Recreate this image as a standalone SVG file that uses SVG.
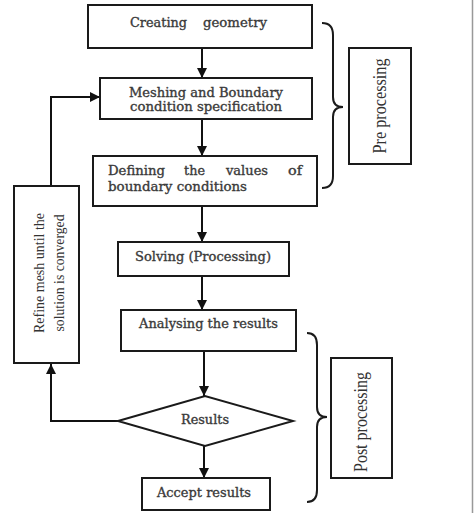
<svg xmlns="http://www.w3.org/2000/svg" width="474" height="513" viewBox="0 0 474 513">
<defs>
<marker id="ah" viewBox="0 0 10 10" refX="10" refY="5" markerWidth="10" markerHeight="10" markerUnits="userSpaceOnUse" orient="auto">
<path d="M0,0 L10,5 L0,10 z" fill="#111"/>
</marker>
<style>
.box{fill:#fff;stroke:#1a1a1a;stroke-width:2}
.t{font-family:"DejaVu Serif","Liberation Serif",serif;font-size:12.5px;fill:#3a3a3a;stroke:#3a3a3a;stroke-width:0.35}
.r{font-family:"Liberation Serif","Times New Roman",serif;font-size:14px;fill:#333}
.big{font-family:"Liberation Serif","Times New Roman",serif;font-size:19px;fill:#333}
.c{fill:none;stroke:#111;stroke-width:2}
.br{fill:none;stroke:#1a1a1a;stroke-width:2}
</style>
</defs>
<rect width="474" height="513" fill="#fff"/>
<line x1="472.5" y1="0" x2="472.5" y2="513" stroke="#999" stroke-width="1.5"/>

<g id="connectors">
<line class="c" x1="202" y1="48" x2="202" y2="78" marker-end="url(#ah)"/>
<line class="c" x1="202" y1="119" x2="202" y2="156" marker-end="url(#ah)"/>
<line class="c" x1="202" y1="206" x2="202" y2="242" marker-end="url(#ah)"/>
<line class="c" x1="202" y1="276" x2="202" y2="310" marker-end="url(#ah)"/>
<line class="c" x1="204" y1="351" x2="204" y2="396" marker-end="url(#ah)"/>
<line class="c" x1="204" y1="446" x2="204" y2="478" marker-end="url(#ah)"/>
<polyline class="c" points="118,421 51,421 51,364" marker-end="url(#ah)"/>
<polyline class="c" points="51,186 51,97 100,97" marker-end="url(#ah)"/>
</g>

<g id="n1">
<rect class="box" x="88" y="5" width="224" height="43"/>
<text class="t" y="27"><tspan x="130" textLength="57" lengthAdjust="spacingAndGlyphs">Creating</tspan> <tspan x="203" textLength="64" lengthAdjust="spacingAndGlyphs">geometry</tspan></text>
</g>
<g id="n2">
<rect class="box" x="100" y="78" width="212" height="41"/>
<text class="t" x="129" y="97" textLength="154" lengthAdjust="spacingAndGlyphs">Meshing and Boundary</text>
<text class="t" x="130" y="111" textLength="152" lengthAdjust="spacingAndGlyphs">condition specification</text>
</g>
<g id="n3">
<rect class="box" x="93" y="156" width="224" height="50"/>
<text class="t" y="175"><tspan x="108" textLength="57" lengthAdjust="spacingAndGlyphs">Defining</tspan> <tspan x="184" textLength="21" lengthAdjust="spacingAndGlyphs">the</tspan> <tspan x="226" textLength="42" lengthAdjust="spacingAndGlyphs">values</tspan> <tspan x="288" textLength="14" lengthAdjust="spacingAndGlyphs">of</tspan></text>
<text class="t" x="108" y="191" textLength="139" lengthAdjust="spacingAndGlyphs">boundary conditions</text>
</g>
<g id="n4">
<rect class="box" x="118" y="242" width="171" height="34"/>
<text class="t" x="135" y="261" textLength="136" lengthAdjust="spacingAndGlyphs">Solving (Processing)</text>
</g>
<g id="n5">
<rect class="box" x="121" y="310" width="175" height="41"/>
<text class="t" x="139" y="328" textLength="139" lengthAdjust="spacingAndGlyphs">Analysing the results</text>
</g>
<g id="n6">
<polygon class="box" points="118,421 205,396 293,421 205,446"/>
<text class="t" x="181" y="424" textLength="48" lengthAdjust="spacingAndGlyphs">Results</text>
</g>
<g id="n7">
<rect class="box" x="142" y="478" width="128" height="32"/>
<text class="t" x="157" y="497" textLength="94" lengthAdjust="spacingAndGlyphs">Accept results</text>
</g>
<g id="n8">
<rect class="box" x="14" y="186" width="65" height="177"/>
<text class="r" transform="translate(44,273) rotate(-90)" text-anchor="middle" textLength="120" lengthAdjust="spacingAndGlyphs">Refine mesh until the</text>
<text class="r" transform="translate(64,273) rotate(-90)" text-anchor="middle" textLength="117" lengthAdjust="spacingAndGlyphs">solution is converged</text>
</g>
<g id="pre">
<path class="br" d="M322,23 Q333,23 333,35 L333,97 Q333,107 343,107 Q333,107 333,117 L333,176 Q333,188 322,188"/>
<rect class="box" x="349" y="48" width="62" height="116"/>
<text class="big" transform="translate(386,106) rotate(-90)" text-anchor="middle" textLength="95" lengthAdjust="spacingAndGlyphs">Pre processing</text>
</g>
<g id="post">
<path class="br" d="M307,333 Q317,333 317,345 L317,407 Q317,417 327,417 Q317,417 317,427 L317,490 Q317,502 307,502"/>
<rect class="box" x="331" y="358" width="61" height="120"/>
<text class="big" transform="translate(367,422) rotate(-90)" text-anchor="middle" textLength="100" lengthAdjust="spacingAndGlyphs">Post processing</text>
</g>
</svg>
